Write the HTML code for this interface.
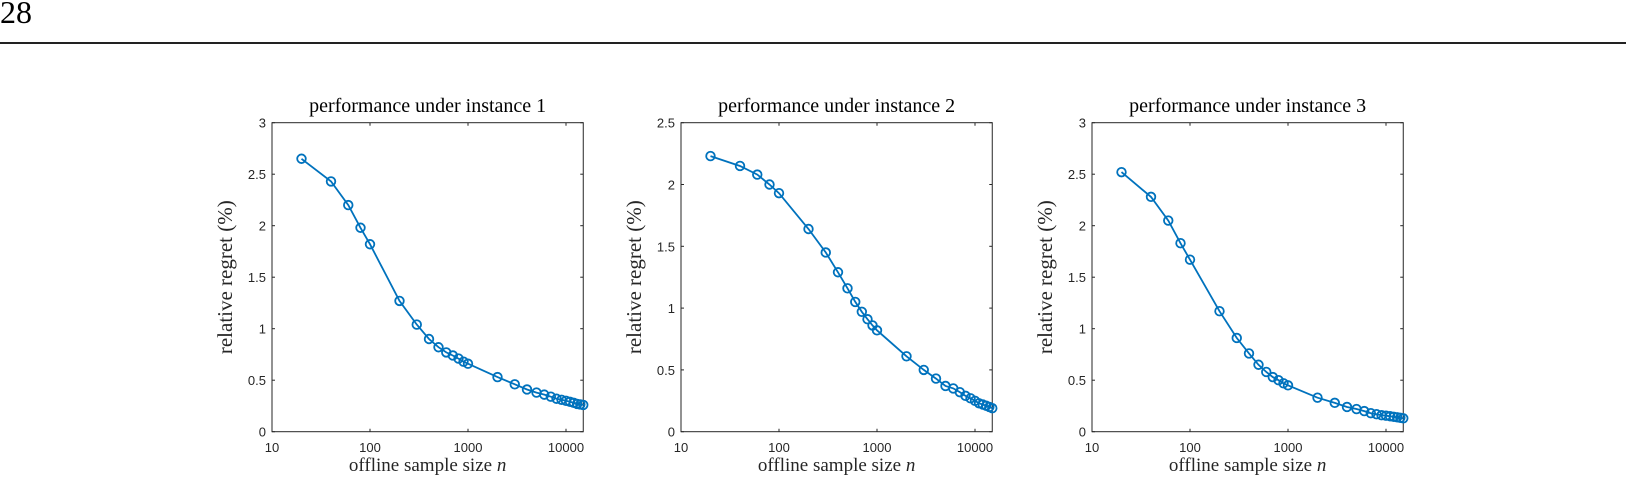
<!DOCTYPE html>
<html><head><meta charset="utf-8"><style>
body{margin:0;background:#fff;width:1626px;height:477px;overflow:hidden}
svg{display:block}
.tk{font-family:"Liberation Sans",sans-serif;font-size:13px;fill:#262626}
.tt{font-family:"Liberation Serif",serif;font-size:20px;fill:#000}
.lb{font-family:"Liberation Serif",serif;font-size:19px;fill:#262626}
.ly{font-family:"Liberation Serif",serif;font-size:21px;fill:#262626}
</style></head><body>
<svg id="svg" width="1626" height="477">
<text x="0" y="23" font-family="Liberation Serif,serif" font-size="32">28</text>
<rect x="0" y="42" width="1626" height="2" fill="#222"/>
</svg>
<script>
const xValues=[20,40,60,80,100,200,300,400,500,600,700,800,900,1000,2000,3000,4000,5000,6000,7000,8000,9000,10000,11000,12000,13000,14000,15000];
const series1=[2.65,2.43,2.2,1.98,1.82,1.27,1.04,0.9,0.82,0.77,0.74,0.71,0.68,0.66,0.53,0.46,0.41,0.38,0.36,0.34,0.32,0.31,0.30,0.29,0.28,0.27,0.265,0.26];
const series2=[2.23,2.15,2.08,2.0,1.93,1.64,1.45,1.29,1.16,1.05,0.97,0.91,0.86,0.82,0.61,0.50,0.43,0.37,0.35,0.32,0.29,0.27,0.25,0.23,0.22,0.21,0.20,0.19];
const series3=[2.52,2.28,2.05,1.83,1.67,1.17,0.91,0.76,0.65,0.58,0.53,0.50,0.47,0.45,0.33,0.28,0.24,0.22,0.20,0.18,0.17,0.16,0.155,0.15,0.145,0.14,0.135,0.13];
const xTicks=[10,100,1000,10000];
const yTicks1=[0,0.5,1,1.5,2,2.5,3];
const yTicks2=[0,0.5,1,1.5,2,2.5];
const yTicks3=[0,0.5,1,1.5,2,2.5,3];
const titles=["performance under instance 1","performance under instance 2","performance under instance 3"];
const NS="http://www.w3.org/2000/svg";
const svgEl=document.getElementById('svg');
function mk(tag,attrs,parent){const e=document.createElementNS(NS,tag);for(const k in attrs)e.setAttribute(k,attrs[k]);(parent||svgEl).appendChild(e);return e;}
const panels=[{left:272,series:series1,yt:yTicks1,ymax:3},{left:681,series:series2,yt:yTicks2,ymax:2.5},{left:1092,series:series3,yt:yTicks3,ymax:3}];
const yTop=122.7,yBot=431.7,dec=98,xmin=10,xmax=15000;
panels.forEach((p,i)=>{
  const right=p.left+dec*Math.log10(xmax/xmin);
  const xs=v=>p.left+dec*Math.log10(v/xmin);
  const ys=v=>yBot-(v/p.ymax)*(yBot-yTop);
  const g=mk('g',{});
  
  
  const box=mk('rect',{x:p.left,y:yTop,width:right-p.left,height:yBot-yTop,fill:'none',stroke:'#262626','stroke-width':1},g);
  
  
  xTicks.forEach(t=>{const x=xs(t);
    mk('line',{x1:x,x2:x,y1:yBot,y2:yBot-3,stroke:'#262626'},g);
    mk('line',{x1:x,x2:x,y1:yTop,y2:yTop+3,stroke:'#262626'},g);
    const tx=mk('text',{x:x,y:452,'text-anchor':'middle',class:'tk'},g);tx.textContent=t;
    
    });
  p.yt.forEach(t=>{const y=ys(t);
    mk('line',{x1:p.left,x2:p.left+3,y1:y,y2:y,stroke:'#262626'},g);
    mk('line',{x1:right,x2:right-3,y1:y,y2:y,stroke:'#262626'},g);
    const tx=mk('text',{x:p.left-6,y:y+5,'text-anchor':'end',class:'tk'},g);tx.textContent=t;
    
    });
  const pts=xValues.map((v,j)=>xs(v).toFixed(1)+','+ys(p.series[j]).toFixed(1)).join(' ');
  const line=mk('polyline',{points:pts,fill:'none',stroke:'#0072BD','stroke-width':1.8},g);
  
  
  xValues.forEach((v,j)=>{const c=mk('circle',{cx:xs(v),cy:ys(p.series[j]),r:4.3,fill:'none',stroke:'#0072BD','stroke-width':1.8},g);
    
    });
  const t=mk('text',{x:(p.left+right)/2,y:112,'text-anchor':'middle',class:'tt'},g);t.textContent=titles[i];
  
  
  const xl=mk('text',{x:(p.left+right)/2,y:471,'text-anchor':'middle',class:'lb'},g);
  xl.innerHTML='offline sample size <tspan font-style="italic">n</tspan>';
  
  
  const cy=(yTop+yBot)/2, cx=p.left-40;
  const yl=mk('text',{x:cx,y:cy,'text-anchor':'middle',class:'ly',transform:'rotate(-90 '+cx+' '+cy+')'},g);
  yl.textContent='relative regret (%)';
  
  
});
</script>
</body></html>
